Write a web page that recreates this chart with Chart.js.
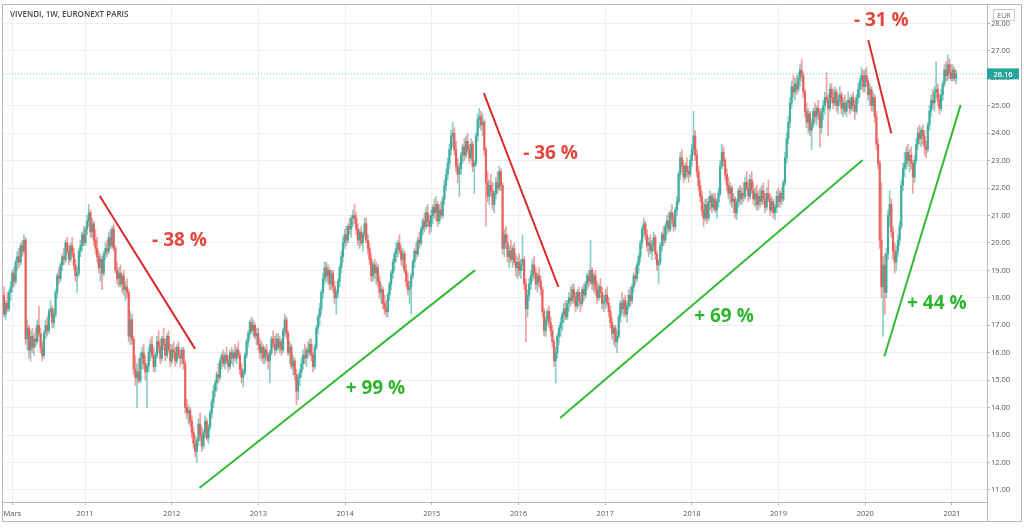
<!DOCTYPE html>
<html lang="fr">
<head>
<meta charset="utf-8">
<title>VIVENDI, 1W, EURONEXT PARIS</title>
<script src="https://cdn.jsdelivr.net/npm/chart.js@4.4.1/dist/chart.umd.min.js"></script>
<style>
  html, body { margin: 0; padding: 0; background: #fff; }
  #grafico { display: block; }
</style>
</head>
<body>
<canvas id="grafico" width="1024" height="528"></canvas>
<script>
// Velas semanales [apertura, máximo, mínimo, cierre], un array por año
const velas2010 = [
  [18.1,18.4,17.3,17.4],[17.4,17.9,17.2,17.8],[17.8,18.2,17.5,17.6],[17.6,18.3,17.5,18.2],[18.2,18.6,17.9,18.4],[18.4,19.0,18.2,18.9],
  [18.9,19.1,18.4,18.6],[18.6,19.4,18.5,19.3],[19.3,19.7,19.0,19.5],[19.5,19.8,19.1,19.3],[19.3,20.0,19.2,19.9],[19.9,20.1,19.5,19.7],
  [19.7,20.3,19.6,20.1],[20.1,20.2,16.3,16.5],[16.5,17.2,16.1,16.9],[16.9,17.0,15.8,16.1],[16.1,16.8,15.7,16.6],[16.6,16.9,16.0,16.2],
  [16.2,16.7,15.9,16.5],[16.5,16.9,16.2,16.4],[16.4,17.2,16.3,17.0],[17.0,17.7,16.6,16.7],[16.7,16.9,16.0,16.2],[16.2,16.4,15.7,15.9],
  [15.9,16.8,15.8,16.7],[16.7,17.2,16.5,17.0],[17.0,17.3,16.6,16.8],[16.8,17.6,16.7,17.5],[17.5,17.9,17.3,17.6],[17.6,17.7,16.9,17.1],
  [17.1,17.6,16.9,17.4],[17.4,18.3,17.3,18.2],[18.2,18.9,18.0,18.8],[18.8,19.1,18.5,18.7],[18.7,19.3,18.6,19.2],[19.2,19.6,19.0,19.5],
  [19.5,19.8,19.2,19.4],[19.4,20.1,19.3,20.0],[20.0,20.2,19.6,19.7],[19.7,19.9,19.2,19.4],[19.4,20.0,19.3,19.9],[19.9,20.2,19.5,19.6],
  [19.6,19.8,19.0,19.2],[19.2,19.4,18.6,18.8],[18.8,19.1,18.2,18.9],[18.9,19.8,18.8,19.7],[19.7,20.1,19.5,19.9],[19.9,20.4,19.7,20.3],
  [20.3,20.6,19.9,20.0]
];
const velas2011 = [
  [20.0,20.6,19.9,20.5],[20.5,21.0,20.3,20.8],[20.8,21.4,20.6,21.1],[21.1,21.2,20.2,20.4],[20.4,20.9,20.2,20.7],[20.7,20.8,19.9,20.1],
  [20.1,20.5,19.6,19.8],[19.8,20.2,19.3,19.5],[19.5,19.7,18.9,19.1],[19.1,19.6,18.6,19.4],[19.4,19.5,18.3,18.9],[18.9,19.7,18.8,19.6],
  [19.6,20.0,19.4,19.8],[19.8,20.1,19.5,19.7],[19.7,20.4,19.6,20.2],[20.2,20.5,19.8,19.9],[19.9,20.6,19.8,20.5],[20.5,20.7,19.7,19.8],
  [19.8,19.9,18.9,19.0],[19.0,19.3,18.5,18.7],[18.7,19.1,18.4,18.9],[18.9,19.2,18.4,18.5],[18.5,18.9,18.2,18.8],[18.8,19.0,18.1,18.3],
  [18.3,18.6,17.9,18.4],[18.4,18.7,18.0,18.2],[18.2,18.3,16.4,16.6],[16.6,17.5,16.3,17.2],[17.2,17.4,16.3,16.5],[16.5,16.6,15.2,15.4],
  [15.4,15.9,14.8,15.1],[15.1,15.6,14.0,15.3],[15.3,15.8,14.9,15.0],[15.0,16.0,14.9,15.8],[15.8,16.2,15.4,16.0],[16.0,16.3,15.4,15.6],
  [15.6,15.9,15.0,15.3],[15.3,15.6,14.0,15.5],[15.5,16.2,15.3,16.0],[16.0,16.5,15.7,16.3],[16.3,16.6,15.8,15.9],[15.9,16.2,15.3,15.5],
  [15.5,16.0,15.3,15.9],[15.9,16.6,15.8,16.4],[16.4,16.8,16.0,16.2],[16.2,16.5,15.6,15.8],[15.8,16.6,15.7,16.5],[16.5,16.9,16.1,16.3],
  [16.3,16.5,15.7,15.9],[15.9,16.7,15.8,16.6],[16.6,16.8,16.0,16.1],[16.1,16.3,15.5,15.7]
];
const velas2012 = [
  [15.7,16.3,15.6,16.1],[16.1,16.4,15.8,16.0],[16.0,16.2,15.5,15.7],[15.7,16.3,15.6,16.2],[16.2,16.4,15.8,15.9],[15.9,16.1,15.5,15.8],
  [15.8,16.2,15.6,16.1],[16.1,16.2,15.4,15.6],[15.6,15.7,13.8,14.0],[14.0,14.3,13.6,13.8],[13.8,14.1,13.4,13.9],[13.9,14.0,13.3,13.5],
  [13.5,13.7,12.9,13.1],[13.1,13.3,12.5,12.7],[12.7,13.0,12.2,12.4],[12.4,12.9,12.0,12.8],[12.8,13.6,12.6,13.4],[13.4,13.8,12.8,13.0],
  [13.0,13.3,12.4,12.6],[12.6,13.2,12.5,13.1],[13.1,13.7,12.9,13.5],[13.5,13.6,12.8,12.9],[12.9,13.4,12.7,13.3],[13.3,13.9,13.2,13.8],
  [13.8,14.3,13.6,14.2],[14.2,14.8,14.0,14.6],[14.6,15.0,14.4,14.9],[14.9,15.3,14.6,15.2],[15.2,15.6,14.9,15.1],[15.1,15.8,15.0,15.7],
  [15.7,16.0,15.4,15.9],[15.9,16.1,15.5,15.6],[15.6,16.0,15.4,15.9],[15.9,16.2,15.6,15.7],[15.7,15.9,15.3,15.5],[15.5,16.1,15.4,16.0],
  [16.0,16.2,15.6,15.8],[15.8,16.1,15.5,16.0],[16.0,16.3,15.7,15.8],[15.8,16.2,15.6,16.1],[16.1,16.4,15.8,15.9],[15.9,16.0,15.2,15.4],
  [15.4,15.6,14.9,15.1],[15.1,15.4,14.75,15.3],[15.3,16.0,15.2,15.9],[15.9,16.5,15.8,16.4],[16.4,16.8,16.2,16.7],[16.7,17.2,16.5,17.1],
  [17.1,17.3,16.7,16.8],[16.8,17.2,16.6,17.0],[17.0,17.1,16.5,16.6],[16.6,16.9,16.3,16.7]
];
const velas2013 = [
  [16.7,16.9,16.1,16.3],[16.3,16.5,15.8,16.0],[16.0,16.4,15.7,16.2],[16.2,16.3,15.6,15.8],[15.8,16.2,15.6,16.1],[16.1,16.3,15.7,15.9],
  [15.9,16.0,15.4,15.7],[15.7,16.1,14.9,16.0],[16.0,16.6,15.9,16.5],[16.5,16.8,16.2,16.3],[16.3,16.6,15.9,16.1],[16.1,16.7,16.0,16.5],
  [16.5,16.7,16.1,16.2],[16.2,16.6,16.0,16.4],[16.4,16.5,15.9,16.1],[16.1,16.9,16.0,16.8],[16.8,17.4,16.6,17.2],[17.2,17.3,16.5,16.7],
  [16.7,16.8,15.9,16.0],[16.0,16.4,15.6,16.2],[16.2,16.3,15.4,15.5],[15.5,15.9,15.2,15.7],[15.7,15.8,15.0,15.2],[15.2,15.4,14.1,14.6],
  [14.6,15.2,14.3,15.1],[15.1,15.4,14.8,15.3],[15.3,15.8,15.1,15.6],[15.6,16.1,15.4,15.9],[15.9,16.3,15.6,15.8],[15.8,16.2,15.5,16.1],
  [16.1,16.4,15.8,16.0],[16.0,16.5,15.9,16.3],[16.3,16.5,15.7,15.9],[15.9,16.0,15.3,15.5],[15.5,16.3,15.4,16.2],[16.2,17.0,16.1,16.9],
  [16.9,17.4,16.7,17.3],[17.3,17.8,17.0,17.6],[17.6,18.3,17.4,18.2],[18.2,18.9,18.0,18.7],[18.7,19.3,18.5,19.1],[19.1,19.3,18.6,18.8],
  [18.8,19.2,18.5,19.0],[19.0,19.1,18.3,18.5],[18.5,19.0,18.3,18.9],[18.9,19.0,18.2,18.4],[18.4,18.6,17.8,18.0],[18.0,18.3,17.4,18.2],
  [18.2,18.7,18.0,18.6],[18.6,19.2,18.4,19.1],[19.1,19.7,18.9,19.5],[19.5,20.2,19.3,20.0]
];
const velas2014 = [
  [20.0,20.5,19.8,20.3],[20.3,20.6,19.9,20.1],[20.1,20.7,20.0,20.6],[20.6,20.9,20.3,20.5],[20.5,21.0,20.2,20.9],[20.9,21.2,20.6,21.0],
  [21.0,21.4,20.7,20.9],[20.9,21.1,20.3,20.5],[20.5,20.7,19.9,20.1],[20.1,20.5,19.8,20.4],[20.4,20.6,19.9,20.0],[20.0,20.4,19.7,20.3],
  [20.3,20.9,20.2,20.7],[20.7,20.9,20.0,20.1],[20.1,20.3,19.6,19.8],[19.8,20.0,19.2,19.4],[19.4,19.6,18.6,18.8],[18.8,19.3,18.6,19.2],
  [19.2,19.4,18.7,18.9],[18.9,19.3,18.5,19.1],[19.1,19.2,18.4,18.6],[18.6,18.8,18.0,18.2],[18.2,18.5,17.8,18.3],[18.3,18.4,17.6,17.8],
  [17.8,18.1,17.4,17.6],[17.6,17.9,17.3,17.5],[17.5,18.2,17.3,18.1],[18.1,18.6,17.9,18.5],[18.5,19.0,18.3,18.9],[18.9,19.4,18.7,19.3],
  [19.3,19.7,19.0,19.6],[19.6,20.0,19.3,19.8],[19.8,20.1,19.5,20.0],[20.0,20.3,19.6,19.7],[19.7,19.9,19.2,19.4],[19.4,19.8,19.1,19.6],
  [19.6,19.7,18.9,19.0],[19.0,19.2,18.4,18.6],[18.6,18.9,18.1,18.3],[18.3,18.6,17.8,18.4],[18.4,18.9,17.4,18.8],[18.8,19.4,18.7,19.3],
  [19.3,19.8,19.1,19.7],[19.7,20.0,19.4,19.6],[19.6,20.2,19.5,20.1],[20.1,20.4,19.8,20.0],[20.0,20.6,19.9,20.5],[20.5,20.9,20.3,20.8],
  [20.8,21.1,20.4,20.6],[20.6,21.3,20.5,21.1],[21.1,21.4,20.6,20.8],[20.8,21.0,20.3,20.6]
];
const velas2015 = [
  [20.6,21.2,20.4,21.0],[21.0,21.4,20.7,21.3],[21.3,21.6,20.9,21.1],[21.1,21.7,20.8,21.4],[21.4,21.5,20.6,20.8],[20.8,21.4,20.7,21.2],
  [21.2,21.5,20.9,21.0],[21.0,21.7,20.9,21.6],[21.6,22.3,21.4,22.1],[22.1,22.7,21.9,22.5],[22.5,23.1,22.3,22.9],[22.9,23.6,22.7,23.4],
  [23.4,24.1,23.2,23.9],[23.9,24.4,23.5,24.0],[24.0,24.2,23.2,23.4],[23.4,23.7,22.6,22.8],[22.8,23.1,22.2,22.5],[22.5,22.9,21.7,22.7],
  [22.7,23.3,22.5,23.2],[23.2,23.6,22.9,23.5],[23.5,23.8,23.0,23.2],[23.2,23.9,23.1,23.7],[23.7,24.0,23.3,23.4],[23.4,23.6,22.9,23.1],
  [23.1,23.8,23.0,23.6],[23.6,23.7,22.6,22.8],[22.8,23.0,21.8,22.9],[22.9,24.0,22.8,23.9],[23.9,24.7,23.7,24.5],[24.5,24.9,24.2,24.6],
  [24.6,24.8,24.1,24.3],[24.3,24.7,23.9,24.4],[24.4,24.5,23.2,23.4],[23.4,23.5,20.6,22.2],[22.2,22.6,21.5,21.7],[21.7,22.3,21.4,22.1],
  [22.1,22.5,21.7,21.9],[21.9,22.2,21.2,21.4],[21.4,21.9,21.1,21.8],[21.8,22.4,21.6,22.2],[22.2,22.6,21.8,22.0],[22.0,22.8,21.9,22.6],
  [22.6,22.7,21.9,22.1],[22.1,22.2,19.6,19.8],[19.8,20.5,19.5,20.3],[20.3,20.6,19.8,20.0],[20.0,20.3,19.3,19.5],[19.5,19.9,19.1,19.7],
  [19.7,20.1,19.3,19.4],[19.4,19.9,19.1,19.8],[19.8,20.0,19.2,19.3],[19.3,19.6,18.8,19.1]
];
const velas2016 = [
  [19.1,19.5,18.7,19.3],[19.3,19.6,18.8,19.0],[19.0,19.4,18.7,19.2],[19.2,20.3,19.0,19.4],[19.4,19.5,18.3,18.5],[18.5,18.7,16.4,17.6],
  [17.6,18.3,17.3,18.1],[18.1,18.7,17.9,18.5],[18.5,19.0,18.3,18.8],[18.8,19.4,18.6,19.2],[19.2,19.5,18.7,18.9],[18.9,19.1,18.3,18.5],
  [18.5,18.9,18.2,18.8],[18.8,19.1,18.4,18.6],[18.6,18.8,18.1,18.3],[18.3,18.4,17.3,17.5],[17.5,17.6,16.6,16.8],[16.8,17.3,16.6,17.2],
  [17.2,17.6,17.0,17.5],[17.5,17.7,16.9,17.1],[17.1,17.3,16.6,16.8],[16.8,17.0,16.2,16.4],[16.4,16.5,15.5,15.7],[15.7,16.2,14.9,16.0],
  [16.0,16.7,15.8,16.6],[16.6,17.0,16.3,16.9],[16.9,17.3,16.6,17.1],[17.1,17.5,16.8,17.4],[17.4,17.8,17.1,17.6],[17.6,17.9,17.2,17.3],
  [17.3,17.9,17.2,17.8],[17.8,18.2,17.5,18.0],[18.0,18.4,17.7,17.9],[17.9,18.5,17.8,18.3],[18.3,18.5,17.8,18.0],[18.0,18.2,17.5,17.7],
  [17.7,18.3,17.6,18.2],[18.2,18.4,17.7,17.9],[17.9,18.2,17.5,17.8],[17.8,18.4,17.7,18.3],[18.3,18.5,17.9,18.1],[18.1,18.6,18.0,18.5],
  [18.5,18.9,18.3,18.8],[18.8,19.0,18.4,18.6],[18.6,20.1,18.5,19.0],[19.0,19.1,18.3,18.5],[18.5,18.9,18.2,18.8],[18.8,19.0,18.1,18.3],
  [18.3,18.6,17.8,18.0],[18.0,18.5,17.9,18.4],[18.4,18.7,18.0,18.2],[18.2,18.4,17.6,17.8],[17.8,18.1,17.5,17.9]
];
const velas2017 = [
  [17.9,18.3,17.6,18.1],[18.1,18.4,17.7,17.8],[17.8,18.0,17.3,17.5],[17.5,17.7,16.9,17.1],[17.1,17.3,16.5,16.7],[16.7,17.0,16.3,16.9],
  [16.9,17.0,16.2,16.4],[16.4,16.8,16.0,16.6],[16.6,17.4,16.5,17.3],[17.3,17.9,17.1,17.8],[17.8,18.2,17.4,17.6],[17.6,18.0,17.3,17.9],
  [17.9,18.1,17.3,17.4],[17.4,17.8,17.1,17.7],[17.7,18.3,17.6,18.1],[18.1,18.4,17.7,17.9],[17.9,18.5,17.8,18.4],[18.4,18.9,18.2,18.8],
  [18.8,19.1,18.5,18.7],[18.7,19.3,18.6,19.2],[19.2,19.6,18.9,19.5],[19.5,20.1,19.3,20.0],[20.0,20.6,19.8,20.5],[20.5,20.9,20.2,20.7],
  [20.7,20.8,20.1,20.3],[20.3,20.5,19.7,19.9],[19.9,20.2,19.5,20.0],[20.0,20.3,19.6,19.7],[19.7,20.1,19.4,19.9],[19.9,20.4,19.7,20.2],
  [20.2,20.3,19.4,19.6],[19.6,19.7,19.0,19.2],[19.2,19.4,18.5,19.3],[19.3,20.0,19.2,19.9],[19.9,20.4,19.7,20.3],[20.3,20.6,19.9,20.1],
  [20.1,20.7,20.0,20.6],[20.6,21.0,20.3,20.8],[20.8,21.1,20.4,20.5],[20.5,21.2,20.4,21.1],[21.1,21.4,20.7,20.9],[20.9,21.1,20.4,20.6],
  [20.6,21.3,20.5,21.2],[21.2,21.7,21.0,21.5],[21.5,22.6,21.4,22.5],[22.5,23.3,22.3,23.1],[23.1,23.4,22.6,22.8],[22.8,23.0,22.2,22.4],
  [22.4,22.9,22.3,22.8],[22.8,23.1,22.4,22.6],[22.6,22.8,22.2,22.5],[22.5,23.2,22.4,23.0]
];
const velas2018 = [
  [23.0,23.6,22.8,23.4],[23.4,24.8,23.2,23.9],[23.9,24.1,23.0,23.2],[23.2,23.4,22.4,22.6],[22.6,22.8,21.9,22.1],[22.1,22.3,21.5,21.7],
  [21.7,21.9,21.0,21.2],[21.2,21.5,20.6,20.9],[20.9,21.6,20.8,21.4],[21.4,21.6,20.7,20.9],[20.9,21.7,20.8,21.5],[21.5,21.9,21.2,21.7],
  [21.7,21.8,21.1,21.3],[21.3,21.8,21.2,21.6],[21.6,21.8,21.1,21.2],[21.2,21.6,20.9,21.5],[21.5,22.0,21.3,21.8],[21.8,23.0,21.7,22.8],
  [22.8,23.6,22.7,23.3],[23.3,23.5,22.8,23.0],[23.0,23.1,22.3,22.5],[22.5,22.7,21.9,22.1],[22.1,22.4,21.6,21.8],[21.8,22.2,21.4,22.0],
  [22.0,22.1,21.3,21.5],[21.5,21.8,21.1,21.6],[21.6,21.7,20.9,21.1],[21.1,21.6,20.85,21.5],[21.5,22.0,21.3,21.9],[21.9,22.1,21.4,21.6],
  [21.6,22.0,21.4,21.8],[21.8,22.2,21.5,21.7],[21.7,22.4,21.6,22.2],[22.2,22.6,21.9,22.0],[22.0,22.3,21.5,21.7],[21.7,22.5,21.6,22.3],
  [22.3,22.6,21.8,21.9],[21.9,22.2,21.4,21.6],[21.6,22.0,21.3,21.8],[21.8,22.1,21.2,21.4],[21.4,21.9,21.2,21.7],[21.7,22.0,21.3,21.5],
  [21.5,22.1,21.4,21.9],[21.9,22.2,21.4,21.6],[21.6,21.8,21.1,21.3],[21.3,22.0,21.2,21.8],[21.8,22.3,21.5,21.6],[21.6,21.8,21.0,21.2],
  [21.2,21.7,21.1,21.5],[21.5,21.6,20.9,21.1],[21.1,21.4,20.85,21.3],[21.3,21.9,21.1,21.7]
];
const velas2019 = [
  [21.7,22.0,21.3,21.5],[21.5,21.9,21.3,21.8],[21.8,22.0,21.4,21.6],[21.6,22.3,21.5,22.2],[22.2,23.3,22.1,23.1],[23.1,24.0,22.9,23.8],
  [23.8,24.6,23.6,24.4],[24.4,25.3,24.2,25.1],[25.1,25.9,24.9,25.7],[25.7,26.1,25.3,25.5],[25.5,26.0,25.2,25.8],[25.8,26.1,25.4,25.6],
  [25.6,26.2,25.5,26.0],[26.0,26.5,25.7,26.3],[26.3,26.7,25.9,26.1],[26.1,26.2,25.3,25.5],[25.5,25.6,24.6,24.8],[24.8,25.1,24.2,24.4],
  [24.4,24.9,24.0,24.7],[24.7,24.8,23.9,24.1],[24.1,24.5,23.4,24.3],[24.3,24.9,24.2,24.8],[24.8,25.1,24.4,24.6],[24.6,25.0,24.3,24.9],
  [24.9,25.2,24.5,24.7],[24.7,24.9,23.5,24.2],[24.2,24.9,24.0,24.8],[24.8,25.2,24.5,25.0],[25.0,25.5,24.7,25.3],[25.3,26.2,25.1,25.2],
  [25.2,25.4,23.9,24.9],[24.9,25.8,24.8,25.6],[25.6,25.8,25.1,25.3],[25.3,25.6,24.9,25.1],[25.1,25.7,25.0,25.5],[25.5,25.6,24.8,25.0],
  [25.0,25.4,24.7,25.2],[25.2,25.7,25.0,25.4],[25.4,25.5,24.7,24.9],[24.9,25.3,24.6,25.1],[25.1,25.4,24.7,24.8],[24.8,25.2,24.6,25.1],
  [25.1,25.5,24.9,25.2],[25.2,25.3,24.7,24.9],[24.9,25.4,24.8,25.3],[25.3,25.5,24.8,25.0],[25.0,25.2,24.5,24.8],[24.8,25.4,24.7,25.3],
  [25.3,25.8,25.1,25.6],[25.6,26.0,25.3,25.9],[25.9,26.4,25.6,26.1],[26.1,26.3,25.5,25.7]
];
const velas2020 = [
  [25.7,26.3,25.5,26.1],[26.1,26.4,25.7,25.9],[25.9,26.0,25.2,25.4],[25.4,25.8,25.0,25.6],[25.6,25.7,24.8,25.0],[25.0,25.5,24.8,25.3],
  [25.3,25.4,24.4,24.6],[24.6,24.8,23.4,23.6],[23.6,23.8,22.7,22.9],[22.9,23.0,19.8,20.1],[20.1,22.2,18.0,18.4],[18.4,19.5,16.6,19.2],
  [19.2,19.6,17.4,18.2],[18.2,19.8,18.0,19.6],[19.6,21.2,19.4,21.0],[21.0,21.9,20.6,21.4],[21.4,21.6,20.2,20.4],[20.4,20.6,19.4,19.7],
  [19.7,20.0,18.9,19.3],[19.3,19.9,19.0,19.7],[19.7,20.3,19.5,20.1],[20.1,20.8,19.9,20.6],[20.6,22.3,20.5,22.1],[22.1,22.9,21.9,22.7],
  [22.7,23.3,22.4,22.9],[22.9,23.5,22.7,23.3],[23.3,23.6,22.8,23.0],[23.0,23.4,22.6,23.2],[23.2,23.5,22.7,22.9],[22.9,23.0,21.8,22.4],
  [22.4,23.2,22.2,23.0],[23.0,23.8,22.9,23.6],[23.6,24.2,23.4,24.0],[24.0,24.3,23.6,23.8],[23.8,24.2,23.5,24.1],[24.1,24.3,23.6,23.9],
  [23.9,24.1,23.2,23.5],[23.5,23.7,23.1,23.4],[23.4,24.4,23.3,24.3],[24.3,25.0,24.1,24.8],[24.8,25.4,24.6,25.2],[25.2,25.6,24.9,25.1],
  [25.1,25.7,24.8,25.5],[25.5,26.6,25.3,25.6],[25.6,25.8,25.0,25.2],[25.2,25.4,24.7,24.9],[24.9,25.6,24.8,25.4],[25.4,25.9,25.2,25.8],
  [25.8,26.5,25.7,26.3],[26.3,26.6,25.9,26.1],[26.1,26.85,25.9,26.5],[26.5,26.7,26.0,26.2],[26.2,26.5,25.9,26.0]
];
const velas2021 = [
  [26.0,26.5,25.9,26.3],[26.3,26.4,25.9,26.0],[26.0,26.3,25.8,26.16]
];

// Lunes de la primera vela de cada grupo anual
const aniosVelas = [2010, 2011, 2012, 2013, 2014, 2015, 2016, 2017, 2018, 2019, 2020, 2021];
const inicioSemanas = ['2010-01-25', '2011-01-03', '2012-01-02', '2012-12-31', '2013-12-30', '2014-12-29',
                       '2015-12-28', '2017-01-02', '2018-01-01', '2018-12-31', '2019-12-30', '2021-01-04'];
const velasPorAnio = [velas2010, velas2011, velas2012, velas2013, velas2014, velas2015,
                      velas2016, velas2017, velas2018, velas2019, velas2020, velas2021];

// Marcas de los ejes
const marcasX = [2010.162, 2011, 2012, 2013, 2014, 2015, 2016, 2017, 2018, 2019, 2020, 2021];
const marcasY = [11, 12, 13, 14, 15, 16, 17, 18, 19, 20, 21, 22, 23, 24, 25, 26, 27, 28];

// Líneas de tendencia [año inicio, precio inicio, año fin, precio fin]
const lineasBajada = [[2011.17, 21.71, 2012.27, 16.14], [2015.60, 25.46, 2016.46, 18.40], [2020.035, 27.39, 2020.30, 24.0]];
const lineasSubida = [[2012.32, 11.07, 2015.50, 19.01], [2016.48, 13.62, 2019.97, 23.02], [2020.22, 15.86, 2021.10, 25.03]];
const textosBajada = ['- 38 %', '- 36 %', '- 31 %'];
const puntosBajada = [[2012.09, 20.07], [2016.37, 23.26], [2020.185, 28.09]];
const textosSubida = ['+ 99 %', '+ 69 %', '+ 44 %'];
const puntosSubida = [[2014.35, 14.68], [2018.37, 17.30], [2020.825, 17.79]];

const DIA = 86400000;
const X_MIN = 2010.054, X_MAX = 2021.404;
const Y_MIN = 10.56, Y_MAX = 28.67;

const verde = '#3fae9f', rojo = '#e9615d';
const rojoLinea = '#dc2a2a', verdeLinea = '#34bb34';
const rojoTexto = '#e2473d', verdeTexto = '#2db52d';

function fraccionAnio(ms) {
    const y = new Date(ms).getUTCFullYear();
    const ini = Date.UTC(y, 0, 1), fin = Date.UTC(y + 1, 0, 1);
    return y + (ms - ini) / (fin - ini);
}

// Armar la lista de velas con su posición en años
const velas = [];
aniosVelas.forEach((anio, k) => {
    const base = Date.parse(inicioSemanas[k] + 'T00:00:00Z');
    velasPorAnio[k].forEach((v, j) => {
        velas.push({ x: fraccionAnio(base + j * 7 * DIA), o: v[0], h: v[1], l: v[2], c: v[3] });
    });
});
const ultimoCierre = velas[velas.length - 1].c;
const colorCuerpo = velas.map(v => v.c >= v.o ? verde : rojo);
const colorMecha = velas.map(v => v.c >= v.o ? 'rgba(63,174,159,0.6)' : 'rgba(233,97,93,0.6)');

function linea(l, color) {
    return {
        type: 'line',
        data: [{ x: l[0], y: l[1] }, { x: l[2], y: l[3] }],
        borderColor: color,
        borderWidth: 2,
        pointRadius: 0,
        order: 0
    };
}

// Textos, recuadros y marco
const anotaciones = {
    id: 'anotaciones',
    afterDatasetsDraw(chart) {
        const { ctx, scales: { x, y } } = chart;
        ctx.save();
        ctx.font = '700 19px "Open Sans"';
        ctx.textAlign = 'center';
        ctx.textBaseline = 'middle';
        ctx.fillStyle = rojoTexto;
        textosBajada.forEach((t, i) => ctx.fillText(t, x.getPixelForValue(puntosBajada[i][0]), y.getPixelForValue(puntosBajada[i][1])));
        ctx.fillStyle = verdeTexto;
        textosSubida.forEach((t, i) => ctx.fillText(t, x.getPixelForValue(puntosSubida[i][0]), y.getPixelForValue(puntosSubida[i][1])));
        ctx.restore();
    },
    afterDraw(chart) {
        const { ctx, chartArea, scales: { y } } = chart;
        ctx.save();
        // marco exterior y separador del eje de precios
        ctx.strokeStyle = '#b5b5b5';
        ctx.lineWidth = 1;
        ctx.strokeRect(2.5, 4.5, 1019, 517);
        ctx.beginPath();
        ctx.moveTo(Math.round(chartArea.right) + 0.5, 4.5);
        ctx.lineTo(Math.round(chartArea.right) + 0.5, 521.5);
        ctx.stroke();

        // título
        ctx.font = '600 8px "Open Sans"';
        ctx.fillStyle = '#4a4a4a';
        ctx.textAlign = 'left';
        ctx.textBaseline = 'middle';
        ctx.fillText('VIVENDI, 1W, EURONEXT PARIS', 10, 15);

        // recuadro EUR
        ctx.fillStyle = '#fff';
        ctx.fillRect(993.5, 9.5, 21, 11);
        ctx.strokeStyle = '#c8c8c8';
        ctx.strokeRect(993.5, 9.5, 21, 11);
        ctx.font = '7px "Open Sans"';
        ctx.fillStyle = '#666';
        ctx.textAlign = 'center';
        ctx.fillText('EUR', 1004, 15.5);

        // etiqueta del último precio
        const yp = y.getPixelForValue(ultimoCierre);
        ctx.fillStyle = '#26a69a';
        ctx.fillRect(chartArea.right, yp - 5.5, 32, 11);
        ctx.font = '600 7.5px "Open Sans"';
        ctx.fillStyle = '#fff';
        ctx.fillText(ultimoCierre.toFixed(2), chartArea.right + 16, yp + 0.5);
        ctx.restore();
    }
};

Chart.defaults.font.family = '"Open Sans", sans-serif';
Chart.defaults.font.size = 7.5;
Chart.defaults.color = '#555';

const ctx = document.getElementById('grafico').getContext('2d');
const grafico = new Chart(ctx, {
    type: 'bar',
    data: {
        datasets: [
            ...lineasBajada.map(l => linea(l, rojoLinea)),
            ...lineasSubida.map(l => linea(l, verdeLinea)),
            {
                label: 'Cuerpos',
                data: velas.map(v => ({ x: v.x, y: [v.o, v.c] })),
                backgroundColor: colorCuerpo,
                barThickness: 1.5,
                minBarLength: 1,
                grouped: false,
                order: 1
            },
            {
                label: 'Mechas',
                data: velas.map(v => ({ x: v.x, y: [v.l, v.h] })),
                backgroundColor: colorMecha,
                barThickness: 1,
                grouped: false,
                order: 2
            },
            {
                type: 'line',
                label: 'Último',
                data: [{ x: X_MIN, y: ultimoCierre }, { x: X_MAX, y: ultimoCierre }],
                borderColor: 'rgba(38,166,154,0.6)',
                borderWidth: 1,
                borderDash: [1, 2],
                pointRadius: 0,
                order: 3
            }
        ]
    },
    options: {
        responsive: false,
        animation: false,
        events: [],
        layout: { padding: { left: 3, top: 5, right: 3, bottom: 6 } },
        plugins: { legend: { display: false }, tooltip: { enabled: false } },
        scales: {
            x: {
                type: 'linear',
                min: X_MIN,
                max: X_MAX,
                offset: false,
                grid: { offset: false, color: '#eceff3', tickColor: '#b5b5b5', tickLength: 3 },
                border: { color: '#b5b5b5' },
                ticks: {
                    autoSkip: false,
                    maxRotation: 0,
                    padding: 4,
                    callback: v => v < 2011 ? 'Mars' : String(v)
                },
                afterBuildTicks: s => { s.ticks = marcasX.map(v => ({ value: v })); },
                afterFit: s => { s.height = 20; s.paddingLeft = 0; s.paddingRight = 0; }
            },
            y: {
                position: 'right',
                min: Y_MIN,
                max: Y_MAX,
                grid: { color: '#eceff3', tickColor: '#b5b5b5', tickLength: 3 },
                border: { display: false },
                ticks: { padding: 1, callback: v => v.toFixed(2) },
                afterBuildTicks: s => { s.ticks = marcasY.map(v => ({ value: v })); },
                afterFit: s => { s.width = 34; s.paddingTop = 0; s.paddingBottom = 0; }
            }
        }
    },
    plugins: [anotaciones]
});
</script>
</body>
</html>
